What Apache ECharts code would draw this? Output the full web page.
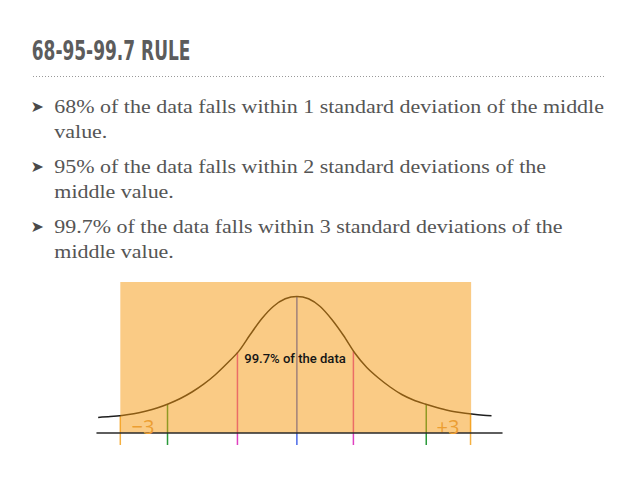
<!DOCTYPE html>
<html><head><meta charset="utf-8">
<script src="https://cdn.jsdelivr.net/npm/echarts@6/dist/echarts.min.js"></script>
<style>html,body{margin:0;padding:0;background:#fff}#c{width:638px;height:479px}</style>
</head><body><div id="c"></div>
<script>
// ---- data ----
const titleText = '68-95-99.7 RULE';
const bulletLines = [
  ['68% of the data falls within 1 standard deviation of the middle', 'value.'],
  ['95% of the data falls within 2 standard deviations of the', 'middle value.'],
  ['99.7% of the data falls within 3 standard deviations of the', 'middle value.']
];
const curveX = [-3.41, -3.2, -3.0, -2.8, -2.6, -2.4, -2.2, -2.0, -1.8, -1.6, -1.4, -1.2, -1.0, -0.8, -0.6, -0.4, -0.2, 0,
                0.2, 0.4, 0.6, 0.8, 1.0, 1.2, 1.4, 1.6, 1.8, 2.0, 2.2, 2.4, 2.6, 2.8, 3.0, 3.2, 3.34];
const curveY = [15.6, 16.4, 17.5, 19.2, 21.8, 25.0, 29.3, 34.5, 41.0, 48.8, 58.3, 69.5, 81.6, 98.5, 114.5, 126.8, 134.2, 136.6,
                134.2, 126.5, 113.5, 97.5, 79.5, 65.5, 55.0, 46.0, 38.5, 33.0, 29.0, 25.5, 22.5, 20.5, 19.0, 17.8, 17.3];
const markX = [-3.03, -2.22, -1.02, 0, 0.97, 2.22, 2.98];
const markTop = [17.3, 28.8, 81.0, 136.6, 82.2, 28.6, 19.1];
const markColors = ['#f5b040', '#2a9a3a', '#e040c0', '#4a6ae8', '#e040c0', '#2a9a3a', '#f5b040'];
const bandRange = [-3.03, 2.99];
const bandTop = 151;
const endLabels = ['\u22123', '+3'];
const centerLabel = '99.7% of the data';

// ---- layout helpers ----
const X_MIN = -3.43, X_MAX = 3.52, Y_MIN = -12, Y_MAX = 151;
const mc = document.createElement('canvas').getContext('2d');
function measure(text, font) { mc.font = font; return mc.measureText(text).width; }

const titleFont = 'bold 27px "Liberation Sans Narrow", "DejaVu Sans Condensed", sans-serif';
const titleScale = 159 / measure(titleText, titleFont);
const bodyFont = '18px "Liberation Serif", serif';
const bodyScale = 550 / measure(bulletLines[0][0], bodyFont);
const labFont = '500 13px Roboto, sans-serif';
const labScale = 101.7 / measure(centerLabel, labFont);

const graphics = [];
graphics.push({
  type: 'text', x: 31.7, y: 50, scaleX: titleScale, z: 100,
  style: { text: titleText, font: titleFont, fill: '#5c5c5c', verticalAlign: 'middle', align: 'left' }
});
graphics.push({
  type: 'line', z: 100,
  shape: { x1: 33, y1: 76.5, x2: 605, y2: 76.5 },
  style: { stroke: '#999999', lineWidth: 1, lineDash: [1, 2] }
});
const bulletBase = [112.5, 172.5, 232.5];
bulletLines.forEach((lines, i) => {
  graphics.push({
    type: 'text', x: 30.5, y: bulletBase[i] - 6.5, z: 100,
    style: { text: '\u27A4', font: '16px "DejaVu Sans", sans-serif', fill: '#4a4a4a', verticalAlign: 'middle', align: 'left' }
  });
  lines.forEach((ln, j) => {
    graphics.push({
      type: 'text', x: 54.3, y: bulletBase[i] + j * 25 - 6, scaleX: bodyScale, z: 100,
      style: { text: ln, font: bodyFont, fill: '#555555', verticalAlign: 'middle', align: 'left' }
    });
  });
});
graphics.push({
  type: 'text', x: 143, y: 426, z: 100,
  style: { text: endLabels[0], font: '20px "Open Sans", sans-serif', fill: '#ec9e32', align: 'center', verticalAlign: 'middle' }
});
graphics.push({
  type: 'text', x: 448, y: 426, z: 100,
  style: { text: endLabels[1], font: '20px "Open Sans", sans-serif', fill: '#ec9e32', align: 'center', verticalAlign: 'middle' }
});
graphics.push({
  type: 'text', x: 295, y: 359, scaleX: labScale, z: 100,
  style: { text: centerLabel, font: labFont, fill: '#151515', align: 'center', verticalAlign: 'middle' }
});

const chart = echarts.init(document.getElementById('c'), null, { renderer: 'svg' });
chart.setOption({
  animation: false,
  backgroundColor: '#ffffff',
  grid: { left: 97, right: 136, top: 282, bottom: 34 },
  xAxis: {
    type: 'value', min: X_MIN, max: X_MAX, z: 10,
    axisLine: { show: true, onZero: true, lineStyle: { color: '#2a2a2a', width: 1.5 } },
    axisTick: { show: false }, axisLabel: { show: false }, splitLine: { show: false }
  },
  yAxis: {
    type: 'value', min: Y_MIN, max: Y_MAX, show: false, splitLine: { show: false }
  },
  series: [
    {
      type: 'custom', z: 1, silent: true,
      data: markX.map((x, i) => [x, markTop[i], i]),
      renderItem: function (params, api) {
        const p0 = api.coord([api.value(0), Y_MIN]);
        const p1 = api.coord([api.value(0), api.value(1)]);
        return {
          type: 'line',
          shape: { x1: p0[0], y1: p0[1], x2: p1[0], y2: p1[1] },
          style: { stroke: markColors[api.value(2)], lineWidth: 1.5 }
        };
      }
    },
    {
      type: 'line', z: 2, silent: true, showSymbol: false, smooth: 0.3,
      data: curveX.map((x, i) => [x, curveY[i]]),
      lineStyle: { color: '#1e1e1e', width: 1.5 }
    },
    {
      type: 'custom', z: 3, silent: true,
      data: [[bandRange[0], bandRange[1], bandTop]],
      renderItem: function (params, api) {
        const a = api.coord([api.value(0), api.value(2)]);
        const b = api.coord([api.value(1), 0]);
        return {
          type: 'rect',
          shape: { x: a[0], y: a[1], width: b[0] - a[0], height: b[1] - a[1] },
          style: { fill: 'rgba(246,152,12,0.5)' }
        };
      }
    }
  ],
  graphic: graphics
});
</script>
</body></html>
